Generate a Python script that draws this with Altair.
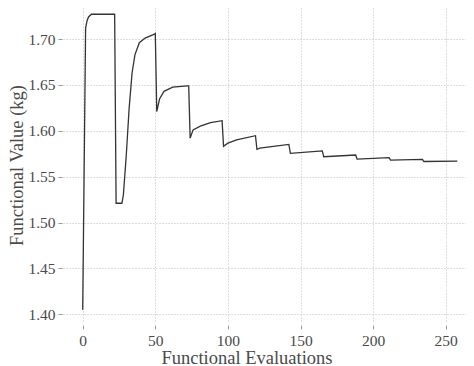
import altair as alt
import pandas as pd

evals = [0, 2, 3, 4, 6, 22, 23, 27, 28, 30, 32, 34, 36, 39, 43, 49, 50, 51, 53, 56, 62, 72,
         73, 74, 76, 81, 88, 96, 97, 100, 106, 119, 120, 122, 130, 142, 143, 165, 166,
         188, 189, 211, 212, 234, 235, 258]
values = [1.405, 1.712, 1.720, 1.724, 1.727, 1.727, 1.521, 1.521, 1.530, 1.573, 1.625,
          1.663, 1.683, 1.696, 1.701, 1.705, 1.706, 1.621, 1.635, 1.643, 1.6475, 1.649,
          1.649, 1.592, 1.601, 1.605, 1.609, 1.611, 1.583, 1.5865, 1.590, 1.5946, 1.5798,
          1.581, 1.5828, 1.5852, 1.5754, 1.578, 1.5717, 1.5736, 1.5692, 1.5707, 1.5681,
          1.5689, 1.5665, 1.567]

x_ticks = [0, 50, 100, 150, 200, 250]
y_ticks = [1.40, 1.45, 1.50, 1.55, 1.60, 1.65, 1.70]

df = pd.DataFrame({"evals": evals, "value": values})

FONT = "Liberation Serif"
TXT = "#4a4a4a"

chart = alt.Chart(df).mark_line(color="#333333", strokeWidth=1.3).encode(
    x=alt.X("evals:Q",
            scale=alt.Scale(domain=[-13.57, 263.98], nice=False, zero=False),
            axis=alt.Axis(values=x_ticks, title="Functional Evaluations", format="d",
                          offset=3, tickSize=4, labelPadding=4,
                          titleX=183.5, titleY=38, titleBaseline="alphabetic",
                          titleAlign="center")),
    y=alt.Y("value:Q",
            scale=alt.Scale(domain=[1.3916, 1.7338], nice=False, zero=False),
            axis=alt.Axis(values=y_ticks, title="Functional Value (kg)", format=".2f",
                          offset=1, tickSize=4, labelPadding=3,
                          titleX=-40, titleY=157, titleBaseline="alphabetic",
                          titleAlign="center", titleAngle=270)),
).properties(
    width=403, height=314,
    autosize=alt.AutoSizeParams(type="none"),
    padding={"left": 55, "top": 0, "right": 0, "bottom": 44},
).configure_view(
    stroke=None
).configure_axis(
    domain=False,
    grid=True,
    gridColor="#bdbdbd",
    gridDash=[1, 2],
    gridWidth=1,
    tickColor="#9a9a9a",
    tickWidth=1,
    labelFont=FONT,
    labelFontSize=15.5,
    labelColor=TXT,
    titleFont=FONT,
    titleFontSize=18.5,
    titleFontWeight="normal",
    titleColor=TXT,
)

chart.save("out.html", embed_options={"renderer": "svg", "actions": False})
